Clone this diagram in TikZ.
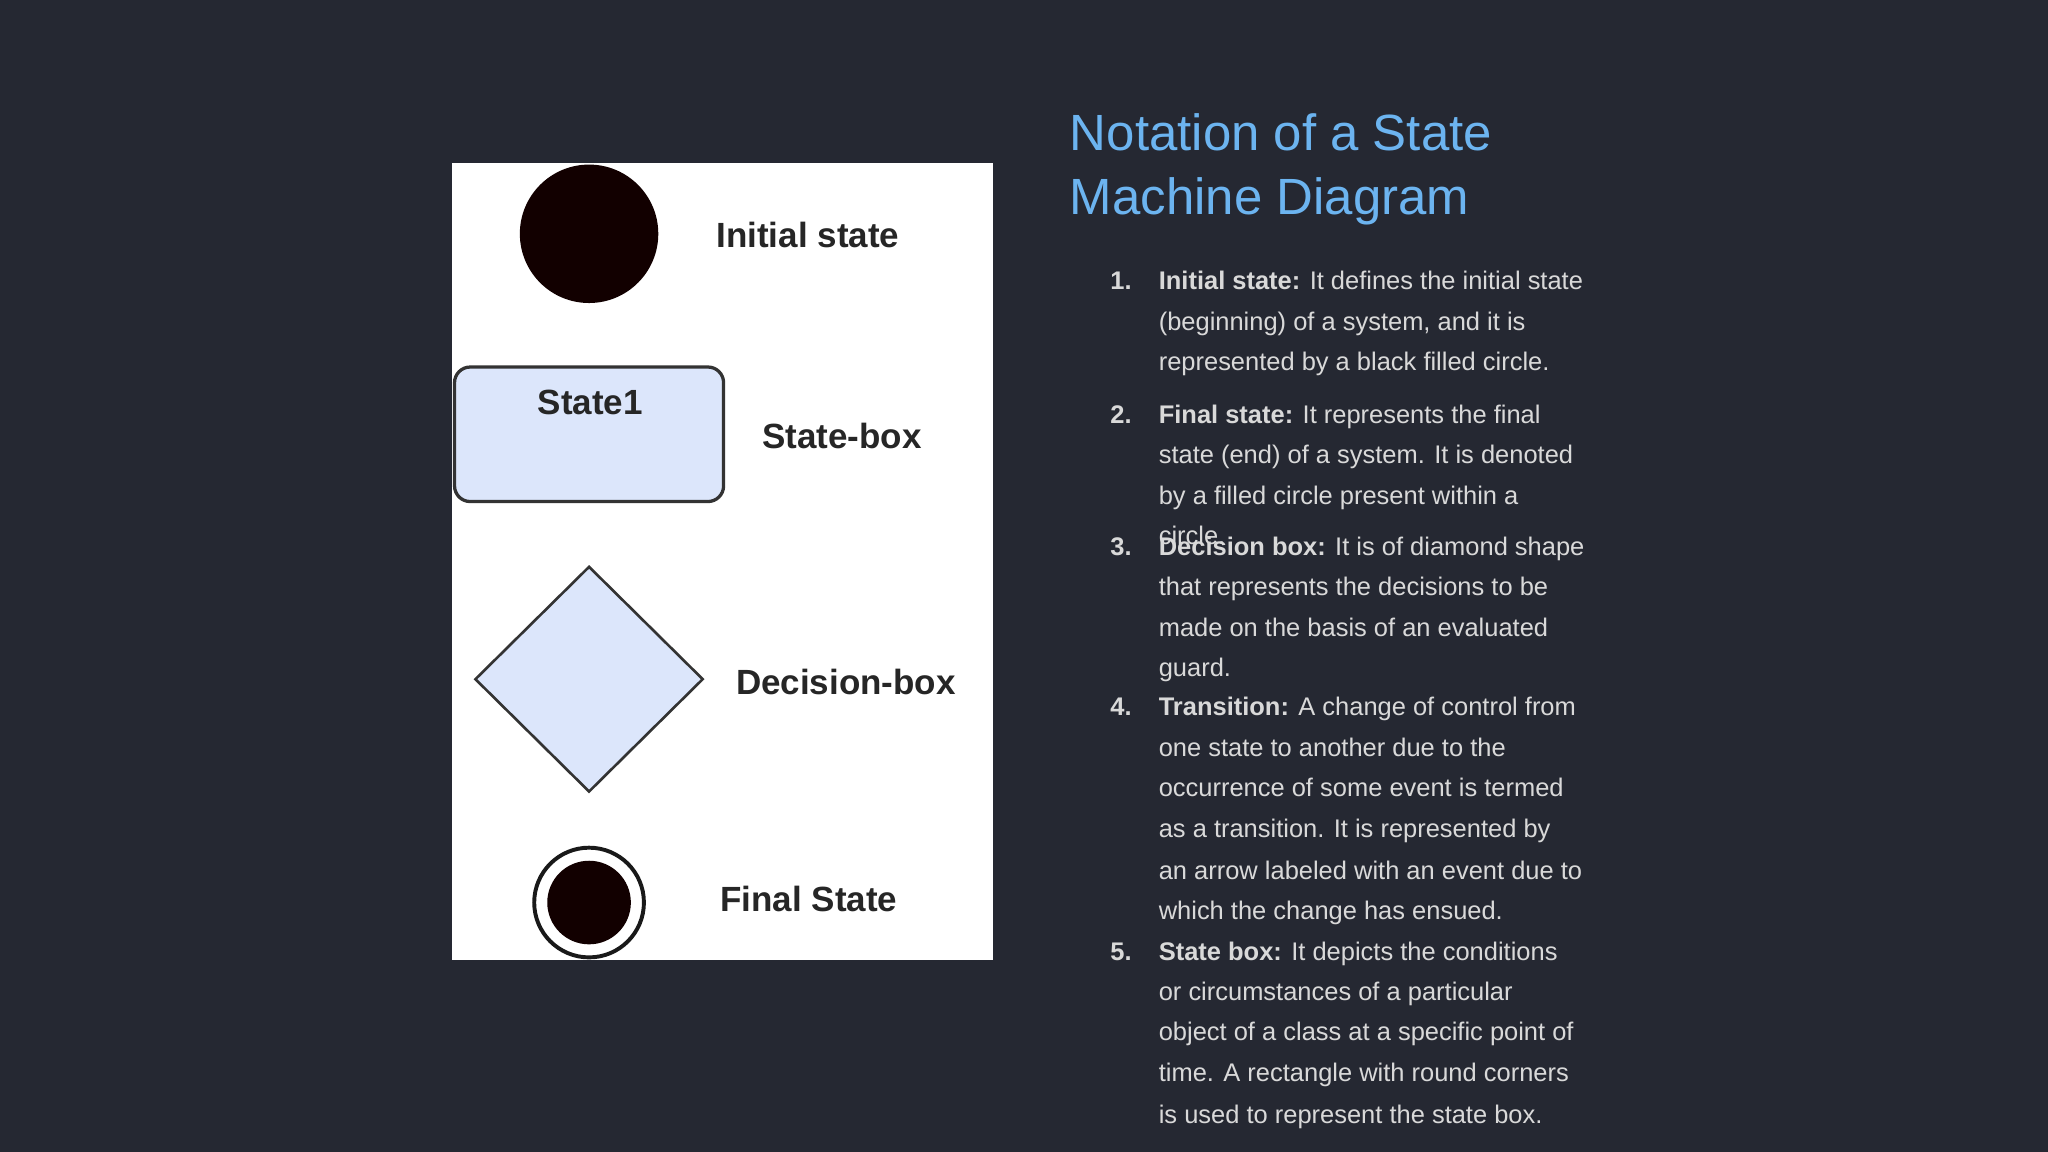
\documentclass[tikz,border=0pt]{standalone}
\usepackage{fontspec}
\setmainfont{Liberation Sans}
\begin{document}
\begin{tikzpicture}[x=1pt,y=-1pt,
  lbl/.style={anchor=west,font=\fontsize{26.8}{30}\selectfont\bfseries,text=black!85},
  body/.style={anchor=base west,font=\fontsize{19.5}{22}\selectfont,text=white!85!black,inner sep=0pt},
  num/.style={anchor=base west,font=\fontsize{19.5}{22}\selectfont\bfseries,text=white!85!black,inner sep=0pt},
  shapeline/.style={draw=black!80,line width=2.5pt}]
\definecolor{bg}{HTML}{252832}
\definecolor{lb}{HTML}{DCE6FB}
\definecolor{tt}{HTML}{6CB4F0}
\useasboundingbox[fill=bg] (0,0) rectangle (1568,882);
\fill[white] (346,125) rectangle (760,735);
\fill[black!93!red] (451,179) circle (53);
\node[lbl] (l1) at (545,180) {Initial state};
\draw[shapeline,fill=lb,rounded corners=12pt] (348,281) rectangle (554,384);
\node[font=\fontsize{26.8}{30}\selectfont\bfseries,text=black!85] (s1) at (452,308) {State1};
\node[lbl] (l2) at (580,334) {State-box};
\draw[draw=black!80,line width=2pt,fill=lb] (451,434) -- (538,520) -- (451,606) -- (364,520) -- cycle;
\node[lbl] (l3) at (560,522) {Decision-box};
\draw[black!90,line width=3pt,fill=white] (451,691) circle (42);
\fill[black!93!red] (451,691) circle (32);
\node[lbl] (l4) at (548,688) {Final State};
\node[anchor=base west,font=\fontsize{39}{44}\selectfont,text=tt,inner sep=0pt] (t1) at (819,115) {Notation of a State};
\node[anchor=base west,font=\fontsize{39}{44}\selectfont,text=tt,inner sep=0pt] (t2) at (819,164) {Machine Diagram};
\node[num] (n1) at (850,222) {1.};
\node[num] (n2) at (850,324) {2.};
\node[num] (n3) at (850,425) {3.};
\node[num] (n4) at (850,548) {4.};
\node[num] (n5) at (850,735) {5.};
\node[body] (a1) at (887,222) {\textbf{Initial state:} It defines the initial state};
\node[body] (a2) at (887,253) {(beginning) of a system, and it is};
\node[body] (a3) at (887,284) {represented by a black filled circle.};
\node[body] (b1) at (887,324) {\textbf{Final state:} It represents the final};
\node[body] (b2) at (887,355) {state (end) of a system. It is denoted};
\node[body] (b3) at (887,386) {by a filled circle present within a};
\node[body] (b4) at (887,417) {circle.};
\node[body] (c1) at (887,425) {\textbf{Decision box:} It is of diamond shape};
\node[body] (c2) at (887,456) {that represents the decisions to be};
\node[body] (c3) at (887,487) {made on the basis of an evaluated};
\node[body] (c4) at (887,518) {guard.};
\node[body] (d1) at (887,548) {\textbf{Transition:} A change of control from};
\node[body] (d2) at (887,579) {one state to another due to the};
\node[body] (d3) at (887,610) {occurrence of some event is termed};
\node[body] (d4) at (887,641) {as a transition. It is represented by};
\node[body] (d5) at (887,673) {an arrow labeled with an event due to};
\node[body] (d6) at (887,704) {which the change has ensued.};
\node[body] (e1) at (887,735) {\textbf{State box:} It depicts the conditions};
\node[body] (e2) at (887,766) {or circumstances of a particular};
\node[body] (e3) at (887,797) {object of a class at a specific point of};
\node[body] (e4) at (887,828) {time. A rectangle with round corners};
\node[body] (e5) at (887,860) {is used to represent the state box.};
\end{tikzpicture}
\end{document}
